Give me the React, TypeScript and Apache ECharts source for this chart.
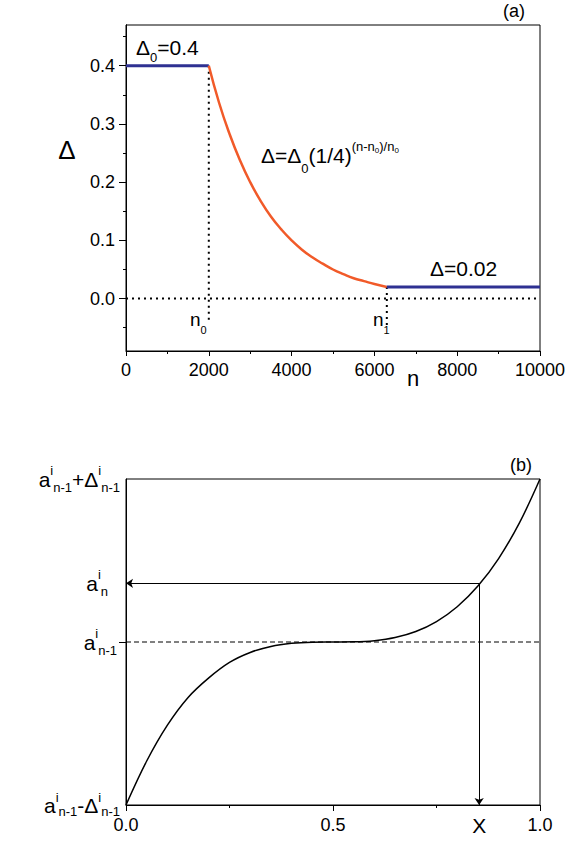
import React, { useEffect, useRef } from 'react';
import * as echarts from 'echarts';

const FONT = '"Liberation Sans", Arial, Helvetica, sans-serif';
const BLUE = '#2E3192';
const ORANGE = '#F15A29';

// ---------- Panel (a) ----------
const plateauN = [0, 2000];
const plateauDelta = 0.4;
const decayN = [2000, 2250, 2500, 2750, 3000, 3250, 3500, 3750, 4000, 4250, 4500, 4750, 5000, 5250, 5500, 5750, 6000, 6300];
const decayDelta = [0.4, 0.336, 0.283, 0.238, 0.2, 0.168, 0.141, 0.119, 0.1, 0.084, 0.071, 0.06, 0.05, 0.042, 0.035, 0.03, 0.025, 0.02];
const floorN = [6300, 10000];
const floorDelta = 0.02;
const n0Value = 2000;
const n1Value = 6300;
const n0DropTo = -0.04;
const n1DropTo = -0.046;
const zeroLineN = [0, 10000];
const yMajorA = [0, 0.1, 0.2, 0.3, 0.4];
const yMinorA = [-0.05, 0.05, 0.15, 0.25, 0.35, 0.45];
const yRangeA = [-0.09, 0.47];
const xRangeA = [0, 10000];

// ---------- Panel (b) ----------
const xB = [0, 0.05, 0.1, 0.15, 0.2, 0.25, 0.3, 0.35, 0.4, 0.45, 0.5, 0.55, 0.6, 0.65, 0.7, 0.75, 0.8, 0.85, 0.9, 0.95, 1];
const yB = [-1, -0.73, -0.51, -0.34, -0.22, -0.125, -0.064, -0.027, -0.008, -0.001, 0, 0.001, 0.008, 0.027, 0.064, 0.125, 0.216, 0.343, 0.512, 0.729, 1];
const xMark = 0.853;
const aN = 0.36;
const yLabelValuesB = [-1, 0, aN, 1];
const yLabelTextsB = [
  '{a2|a}{sup2|i}{sub2|n-1}{a2|-Δ}{sup2|i}{sub2|n-1}',
  '{a|a}{sup|i}{sub|n-1}{g| }',
  '{a|a}{sup|i}{sub|n}{g2| }',
  '{a|a}{sup|i}{sub|n-1}{a|+Δ}{sup|i}{sub|n-1}',
];
const xLabelValuesB = [0, 0.5, xMark, 1];

const tok = (fontSize: number, lineHeight: number, verticalAlign: string = 'middle', extra: any = {}) => ({
  fontSize,
  lineHeight,
  height: lineHeight,
  verticalAlign,
  fontFamily: FONT,
  color: '#000',
  fill: '#000',
  ...extra,
});

const txt = (x: number, y: number, text: string, rich: any, align = 'left') => ({
  type: 'text',
  x,
  y,
  silent: true,
  z: 100,
  style: {
    text,
    rich,
    align,
    verticalAlign: 'middle',
    fontFamily: FONT,
    fontSize: 20,
    fill: '#000',
  },
});

function buildOption() {
  const blk = { color: '#000', width: 1 };
  return {
    animation: false,
    backgroundColor: '#fff',
    textStyle: { fontFamily: FONT, color: '#000' },
    grid: [
      { left: 126, top: 25, width: 414, height: 326, show: true, borderColor: '#000', borderWidth: 1, backgroundColor: 'transparent' },
      { left: 126, top: 479, width: 414, height: 326, show: true, borderColor: '#000', borderWidth: 1, backgroundColor: 'transparent' },
    ],
    xAxis: [
      {
        gridIndex: 0,
        type: 'value',
        min: xRangeA[0],
        max: xRangeA[1],
        interval: 2000,
        axisLine: { show: true, onZero: false, lineStyle: blk },
        axisTick: { show: true, length: 5, lineStyle: blk },
        minorTick: { show: true, splitNumber: 2, length: 3, lineStyle: blk },
        splitLine: { show: false },
        minorSplitLine: { show: false },
        axisLabel: { fontSize: 18, color: '#000', margin: 10, fontFamily: FONT, formatter: (v: number) => String(v) },
      },
      {
        gridIndex: 1,
        type: 'value',
        min: 0,
        max: 1,
        interval: 0.5,
        axisLine: { show: true, onZero: false, lineStyle: blk },
        axisTick: { show: true, length: 6, lineStyle: blk },
        minorTick: { show: true, splitNumber: 2, length: 3, lineStyle: blk },
        splitLine: { show: false },
        minorSplitLine: { show: false },
        axisLabel: {
          customValues: xLabelValuesB,
          margin: 13,
          formatter: (v: number) => (Math.abs(v - xMark) < 1e-6 ? '{x|X}' : '{t|' + v.toFixed(1) + '}'),
          rich: { x: tok(21, 14), t: tok(18, 14) },
        },
      },
    ],
    yAxis: [
      {
        gridIndex: 0,
        type: 'value',
        position: 'left',
        min: yRangeA[0],
        max: yRangeA[1],
        axisLine: { show: true, onZero: false, lineStyle: blk },
        axisTick: { show: true, customValues: yMajorA, length: 7, lineStyle: blk },
        splitLine: { show: false },
        axisLabel: {
          customValues: yMajorA,
          fontSize: 18,
          color: '#000',
          margin: 11,
          fontFamily: FONT,
          formatter: (v: number) => v.toFixed(1),
        },
      },
      {
        gridIndex: 0,
        type: 'value',
        position: 'left',
        offset: 0,
        min: yRangeA[0],
        max: yRangeA[1],
        axisLine: { show: true, onZero: false, lineStyle: blk },
        axisTick: { show: true, customValues: yMinorA, length: 3, lineStyle: blk },
        splitLine: { show: false },
        axisLabel: { show: false },
      },
      {
        gridIndex: 1,
        type: 'value',
        position: 'left',
        min: -1,
        max: 1,
        interval: 1,
        axisLine: { show: true, onZero: false, lineStyle: blk },
        axisTick: { show: true, customValues: [0], length: 7, lineStyle: blk },
        splitLine: { show: false },
        axisLabel: {
          customValues: yLabelValuesB,
          margin: 6,
          align: 'right',
          formatter: (v: number) => {
            const i = yLabelValuesB.findIndex((u) => Math.abs(u - v) < 1e-6);
            return i >= 0 ? yLabelTextsB[i] : '';
          },
          rich: {
            a: tok(21, 30),
            sup: tok(13, 13, 'top'),
            sub: tok(13, 13, 'bottom'),
            a2: tok(21, 26),
            sup2: tok(13, 11, 'top'),
            sub2: tok(13, 13, 'bottom'),
            g: tok(13, 13, 'middle', { width: 3 }),
            g2: tok(13, 13, 'middle', { width: 12 }),
          },
        },
      },
    ],
    series: [
      // panel (a) guide lines
      {
        type: 'line',
        xAxisIndex: 0,
        yAxisIndex: 0,
        data: zeroLineN.map((n) => [n, 0]),
        symbol: 'none',
        silent: true,
        lineStyle: { color: '#000', width: 2, type: [2, 4] },
      },
      {
        type: 'line',
        xAxisIndex: 0,
        yAxisIndex: 0,
        data: [[n0Value, plateauDelta], [n0Value, n0DropTo]],
        symbol: 'none',
        silent: true,
        lineStyle: { color: '#000', width: 2, type: [2, 4] },
      },
      {
        type: 'line',
        xAxisIndex: 0,
        yAxisIndex: 0,
        data: [[n1Value, floorDelta], [n1Value, n1DropTo]],
        symbol: 'none',
        silent: true,
        lineStyle: { color: '#000', width: 2, type: [2, 4] },
      },
      // panel (a) data
      {
        type: 'line',
        xAxisIndex: 0,
        yAxisIndex: 0,
        data: plateauN.map((n) => [n, plateauDelta]),
        symbol: 'none',
        silent: true,
        lineStyle: { color: BLUE, width: 3 },
      },
      {
        type: 'line',
        xAxisIndex: 0,
        yAxisIndex: 0,
        data: decayN.map((n, i) => [n, decayDelta[i]]),
        symbol: 'none',
        smooth: true,
        silent: true,
        lineStyle: { color: ORANGE, width: 2.5 },
      },
      {
        type: 'line',
        xAxisIndex: 0,
        yAxisIndex: 0,
        data: floorN.map((n) => [n, floorDelta]),
        symbol: 'none',
        silent: true,
        lineStyle: { color: BLUE, width: 3 },
      },
      // panel (b)
      {
        type: 'line',
        xAxisIndex: 1,
        yAxisIndex: 2,
        data: [[0, 0], [1, 0]],
        symbol: 'none',
        silent: true,
        lineStyle: { color: '#000', width: 1, type: [5, 3] },
        markLine: {
          silent: true,
          symbol: ['none', 'arrow'],
          symbolSize: 7,
          label: { show: false },
          lineStyle: { color: '#000', width: 1, type: 'solid' },
          emphasis: { disabled: true },
          data: [
            [{ coord: [xMark, aN] }, { coord: [0, aN] }],
            [{ coord: [xMark, aN] }, { coord: [xMark, -1] }],
          ],
        },
      },
      {
        type: 'line',
        xAxisIndex: 1,
        yAxisIndex: 2,
        data: xB.map((x, i) => [x, yB[i]]),
        symbol: 'none',
        smooth: 0.35,
        silent: true,
        lineStyle: { color: '#000', width: 1.5 },
      },
    ],
    graphic: [
      txt(503, 11, '{t|(a)}', { t: tok(18, 20) }),
      txt(136, 47, '{m|Δ}{s|0}{m|=0.4}', { m: tok(21, 36), s: tok(13, 16, 'bottom') }),
      txt(261, 155, '{m|Δ=Δ}{s|0}{m|(1/4)}{p|(n-n}{ps|0}{p|)/n}{ps|0}', {
        m: tok(21, 36),
        s: tok(13, 10, 'bottom'),
        p: tok(13, 18, 'top'),
        ps: tok(8, 26, 'top'),
      }),
      txt(430, 268, '{m|Δ=0.02}', { m: tok(21, 30) }),
      txt(190, 319, '{m|n}{s|0}', { m: tok(19, 34), s: tok(11, 12, 'bottom') }),
      txt(373, 319, '{m|n}{s|1}', { m: tok(19, 34), s: tok(11, 12, 'bottom') }),
      txt(67, 150, '{m|Δ}', { m: tok(26, 30) }, 'center'),
      txt(413, 378, '{m|n}', { m: tok(22, 30) }, 'center'),
      txt(510, 465, '{t|(b)}', { t: tok(18, 20) }),
    ],
  };
}

export default function App() {
  const ref = useRef<HTMLDivElement>(null);
  useEffect(() => {
    const chart = echarts.init(ref.current as HTMLDivElement, null, { renderer: 'svg' });
    chart.setOption(buildOption() as any);
    return () => chart.dispose();
  }, []);
  return (
    <div
      ref={ref}
      style={{ position: 'fixed', left: 0, top: 0, width: 588, height: 843, background: '#fff' }}
    />
  );
}
